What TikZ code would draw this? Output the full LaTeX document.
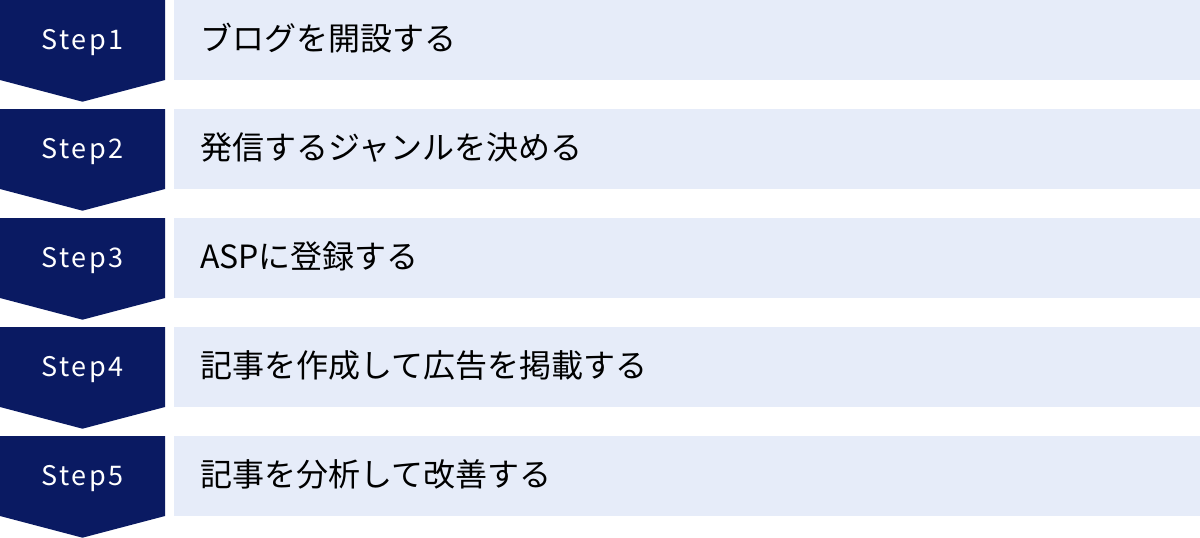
\documentclass[tikz,border=0pt]{standalone}
\usepackage{fontspec}
\setmainfont{Noto Sans CJK JP}
\newfontfamily\stepfont[LetterSpace=9]{Noto Sans CJK JP}
\usepackage{xcolor}
\definecolor{stepnavy}{HTML}{0A1A62}
\definecolor{boxblue}{HTML}{E6ECF9}
\tikzset{
  steplabel/.style={anchor=base,text=white,inner sep=0pt,font=\stepfont\fontsize{27}{30}\selectfont},
  tasklabel/.style={anchor=base west,text=black,inner sep=0pt,font=\fontsize{32}{36}\selectfont},
  navyfill/.style={fill=stepnavy},
  taskbox/.style={fill=boxblue}
}

\begin{document}
\begin{tikzpicture}[x=1pt,y=-1pt]
\useasboundingbox (0,0) rectangle (1200,538);

% Step1
\fill[navyfill] (0,0) -- (165,0) -- (165,80) -- (82.5,101.7) -- (0,80) -- cycle;
\fill[taskbox] (174,0) rectangle (1200,80);
\node[steplabel] (s1) at (82.5,49.5) {Step1};
\node[tasklabel] (t1) at (200,50) {ブログを開設する};

% Step2
\fill[navyfill] (0,109) -- (165,109) -- (165,189) -- (82.5,210.7) -- (0,189) -- cycle;
\fill[taskbox] (174,109) rectangle (1200,189);
\node[steplabel] (s2) at (82.5,158.5) {Step2};
\node[tasklabel] (t2) at (200,159) {発信するジャンルを決める};

% Step3
\fill[navyfill] (0,218) -- (165,218) -- (165,298) -- (82.5,319.7) -- (0,298) -- cycle;
\fill[taskbox] (174,218) rectangle (1200,298);
\node[steplabel] (s3) at (82.5,267.5) {Step3};
\node[tasklabel] (t3) at (200,268) {ASPに登録する};

% Step4
\fill[navyfill] (0,327) -- (165,327) -- (165,407) -- (82.5,428.7) -- (0,407) -- cycle;
\fill[taskbox] (174,327) rectangle (1200,407);
\node[steplabel] (s4) at (82.5,376.5) {Step4};
\node[tasklabel] (t4) at (200,377) {記事を作成して広告を掲載する};

% Step5
\fill[navyfill] (0,436) -- (165,436) -- (165,516) -- (82.5,537.7) -- (0,516) -- cycle;
\fill[taskbox] (174,436) rectangle (1200,516);
\node[steplabel] (s5) at (82.5,485.5) {Step5};
\node[tasklabel] (t5) at (200,486) {記事を分析して改善する};
\end{tikzpicture}
\end{document}
